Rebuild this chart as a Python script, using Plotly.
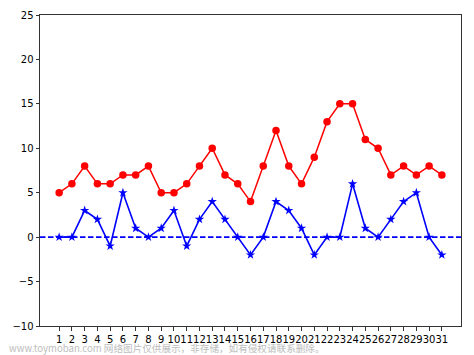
import plotly.graph_objects as go

days = list(range(1, 32))
red_vals = [5, 6, 8, 6, 6, 7, 7, 8, 5, 5, 6, 8, 10, 7, 6, 4, 8, 12, 8, 6, 9, 13, 15, 15, 11, 10, 7, 8, 7, 8, 7]
blue_vals = [0, 0, 3, 2, -1, 5, 1, 0, 1, 3, -1, 2, 4, 2, 0, -2, 0, 4, 3, 1, -2, 0, 0, 6, 1, 0, 2, 4, 5, 0, -2]
y_ticks = [-10, -5, 0, 5, 10, 15, 20, 25]
y_tick_labels = ["\u221210", "\u22125", "0", "5", "10", "15", "20", "25"]

fig = go.Figure()
fig.add_trace(go.Scatter(x=days, y=red_vals, mode="lines+markers",
                         line=dict(color="red", width=1.5),
                         marker=dict(symbol="circle", size=7.5, color="red")))
fig.add_trace(go.Scatter(x=days, y=blue_vals, mode="lines+markers",
                         line=dict(color="blue", width=1.6),
                         marker=dict(symbol="star", size=7, color="blue")))
fig.add_hline(y=0, line=dict(color="blue", width=1.6, dash="5.5px,2.5px"))

axis_common = dict(showline=True, mirror=True, linecolor="#333333", linewidth=1,
                   ticks="outside", ticklen=3.5, tickcolor="#333333", tickwidth=0.8,
                   showgrid=False, zeroline=False, automargin=False,
                   tickfont=dict(family="DejaVu Sans", size=10, color="black"))

fig.update_xaxes(range=[-0.5, 32.5], tickmode="array", tickvals=days,
                 ticktext=[str(d) for d in days], tickangle=0, **axis_common)
fig.update_yaxes(range=[-10, 25], tickmode="array", tickvals=y_ticks,
                 ticktext=y_tick_labels, **axis_common)

fig.add_annotation(text="www.toymoban.com 网络图片仅供展示，非存储，如有侵权请联系删除。",
                   xref="paper", yref="paper", x=-0.078, y=-0.072, xanchor="left", yanchor="middle",
                   showarrow=False,
                   font=dict(family="Noto Sans CJK SC, DejaVu Sans", size=9.6, color="#bdbdbd"))

fig.update_layout(width=474, height=355, margin=dict(l=40, r=13, t=15, b=29),
                  plot_bgcolor="white", paper_bgcolor="white", showlegend=False)

fig.write_html("out.html")
